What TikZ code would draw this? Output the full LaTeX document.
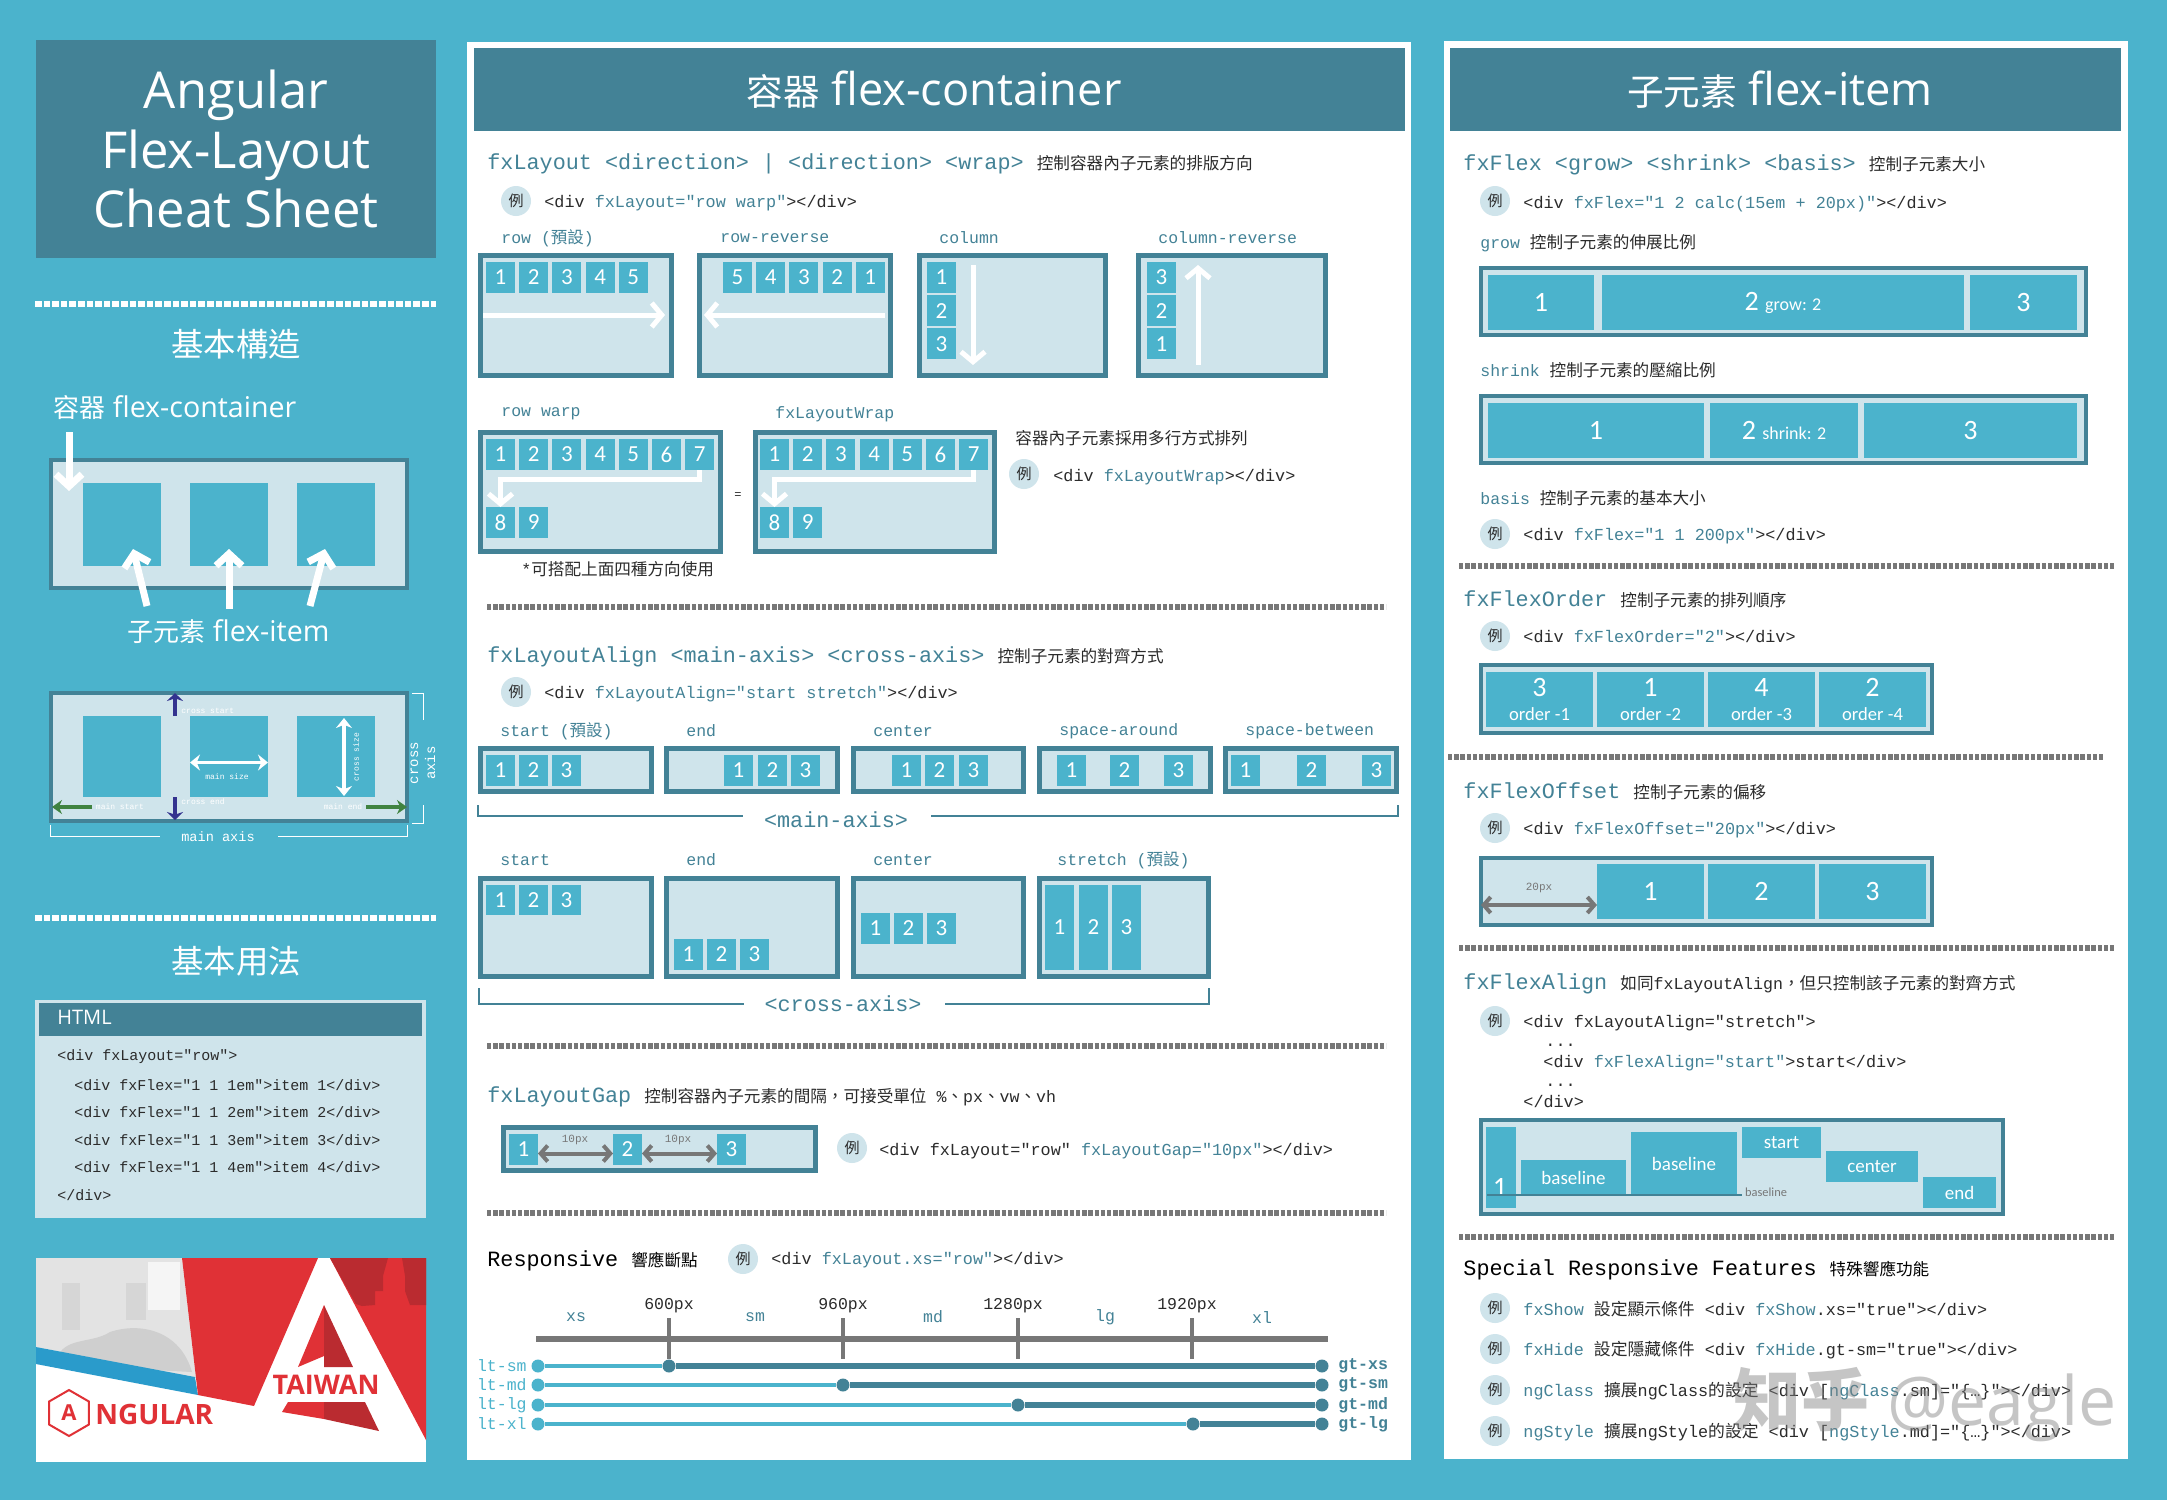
\documentclass[tikz,border=0pt]{standalone}
\usepackage{fontspec}
\setmainfont{Open Sans}
\setmonofont{Liberation Mono}
\newfontfamily\cjk{Noto Sans CJK TC}
\newfontfamily\itemfont{Carlito}
\usetikzlibrary{arrows.meta,positioning,calc,shapes.geometric}
\definecolor{pagebg}{HTML}{4BB3CC}
\definecolor{boxdark}{HTML}{438296}
\definecolor{boxlight}{HTML}{CFE4EB}
\definecolor{ruleg}{HTML}{777777}
\definecolor{codeink}{HTML}{2B2B2B}
\definecolor{logored}{HTML}{E03136}
\definecolor{logodark}{HTML}{BA2B30}
\definecolor{logoblue}{HTML}{2A9BCB}
\newcommand{\zh}[1]{{\cjk #1}}
\newcommand{\zhs}[1]{{\cjk\fontsize{8.3}{10}\selectfont #1}}
\newcommand{\tts}[1]{{\ttfamily\fontsize{8.3}{10}\selectfont #1}}
\newcommand{\ka}[1]{\textcolor{boxdark}{#1}}
% px coordinates: one unit is half a point
\newcommand{\itembox}[6]{\node[itembg,minimum width={(#4)*.5pt},minimum height={(#5)*.5pt}] (#1) at ({#2+(#4)/2},{#3+(#5)/2}) {#6};}
\newcommand{\flexbox}[6][5]{\node[flexbg,line width=#1*.5pt,minimum width={(#5-#3-#1)*.5pt},minimum height={(#6-#4-#1)*.5pt}] (#2) at ({(#3+#5)/2},{(#4+#6)/2}) {};}
\newcommand{\exmark}[3]{\node[exmark] (#1) at (#2,#3) {例};}
\newcommand{\threeitems}[7]{\itembox{#1a}{#2}{#5}{29}{#6}{1}\itembox{#1b}{#3}{#5}{29}{#6}{2}\itembox{#1c}{#4}{#5}{29}{#6}{3}}
\tikzset{
  itembg/.style={fill=pagebg,inner sep=0,outer sep=0,text=white,align=center,font=\itemfont\fontsize{11.5}{13}\selectfont},
  flexbg/.style={draw=boxdark,fill=boxlight,inner sep=0,outer sep=0},
  exmark/.style={circle,fill=boxlight,inner sep=0,minimum size=15pt,text=codeink,font=\cjk\fontsize{7.5}{9}\selectfont},
  sectitle/.style={anchor=west,inner sep=0,text=boxdark,font=\ttfamily\fontsize{10.9}{13}\selectfont},
  codeline/.style={anchor=west,inner sep=0,text=codeink,font=\ttfamily\fontsize{8.4}{11}\selectfont},
  optlabel/.style={anchor=west,inner sep=0,text=boxdark,font=\ttfamily\fontsize{8.25}{10}\selectfont},
  htmlcode/.style={anchor=west,inner sep=0,text=codeink,font=\ttfamily\fontsize{7.5}{9}\selectfont},
  headbar/.style={fill=boxdark,inner sep=0,text=white},
  headtext/.style={inner sep=0,text=white,font=\fontsize{22.6}{25}\selectfont},
  sidetext/.style={inner sep=0,text=white,font=\fontsize{14.3}{16}\selectfont},
  sidehead/.style={inner sep=0,text=white,font=\cjk\fontsize{16.2}{18}\selectfont},
  tinylab/.style={inner sep=0,text=white,font=\ttfamily\fontsize{4}{5}\selectfont},
  axislab/.style={inner sep=0,text=boxdark,font=\ttfamily\fontsize{10.9}{13}\selectfont},
  graylab/.style={inner sep=0,text=ruleg,font=\ttfamily\fontsize{5.5}{7}\selectfont},
  flowarrow/.style={draw=white,line width=2.5pt,arrows={-Straight Barb[length=5pt,width=12pt]}},
  bigarrow/.style={draw=white,line width=3.5pt,arrows={-Straight Barb[length=6pt,width=13pt]}},
  gaparrow/.style={draw=ruleg,line width=2pt,arrows={Straight Barb[length=3.5pt,width=8pt]-Straight Barb[length=3.5pt,width=8pt]}},
  thinarrow/.style={draw=white,line width=1.7pt,arrows={Stealth[length=5pt,width=8pt]-Stealth[length=5pt,width=8pt]}},
  bluearrow/.style={draw=blue!45!black!80,line width=2pt,arrows={-Stealth[length=4pt,width=8pt]}},
  greenarrow/.style={draw=green!35!black!75,line width=2.4pt,arrows={-Stealth[length=5pt,width=7pt]}},
  axisline/.style={draw=boxdark,line width=.6pt},
  sideline/.style={draw=white,line width=.5pt},
  dashrule/.style={draw=ruleg,line width=2.6pt,dash pattern=on 2.2pt off .9pt},
  whiterule/.style={draw=white,line width=2.6pt,dash pattern=on 3.3pt off 1pt},
  zoneline/.style={line width=1.9pt},
  stageline/.style={line width=2.6pt},
  zonedot/.style={circle,inner sep=0,minimum size=6.5pt},
}
\begin{document}
\begin{tikzpicture}[x=.5pt,y=-.5pt]
\useasboundingbox (0,0) rectangle (2167,1500);
\fill[pagebg] (0,0) rectangle (2167,1500);

% left column
\node[headbar,minimum width=200pt,minimum height=109pt,align=center,font=\fontsize{25.4}{29.6}\selectfont] (sheet) at (236,149) {Angular\\Flex-Layout\\Cheat Sheet};
\draw[whiterule] (35,304) -- (436,304);
\node[sidehead] (struct) at (236,344) {基本構造};
\node[sidetext,anchor=west] (lbcont) at (53,408) {\zh{\fontsize{13}{15}\selectfont 容器} flex-container};
\node[draw=boxdark,fill=boxlight,line width=1.75pt,inner sep=0,minimum width=178pt,minimum height=64pt] (strbox) at (229,524) {};
\foreach \n/\x in {a/83,b/190,c/297} {
  \itembox{str\n}{\x}{483}{78}{83}{}
}
\coordinate (contfrom) at (69,432);
\coordinate (contto) at (69,491);
\draw[bigarrow] (contfrom) -- (contto);
\node[sidetext,anchor=west] (lbitem) at (127,632) {\zh{\fontsize{13}{15}\selectfont 子元素} flex-item};
\coordinate (ia) at (147,606);
\coordinate (ib) at (229,609);
\coordinate (ic) at (310,606);
\draw[bigarrow] (ia) -- (133,549);
\draw[bigarrow] (ib) -- (229,549);
\draw[bigarrow] (ic) -- (325,549);

\node[draw=boxdark,fill=boxlight,line width=1.75pt,inner sep=0,minimum width=178pt,minimum height=64pt] (axbox) at (229,757) {};
\foreach \n/\x in {a/83,b/190,c/297} {
  \itembox{ax\n}{\x}{716}{78}{81}{}
}
\draw[bluearrow] (axb.north west) ++(-15,0) coordinate (cs) -- ++(0,-23);
\draw[bluearrow] (axb.south west) ++(-15,0) coordinate (ce) -- ++(0,23);
\node[tinylab,anchor=west] (crossstart) at (181,711) {cross start};
\node[tinylab,anchor=west] (crossend) at (181,802) {cross end};
\draw[thinarrow] (axb.west) ++(0,6) -- ++(78,0) coordinate (msize);
\node[tinylab] (mainsize) at (227,777) {main size};
\draw[thinarrow] (344,718) coordinate (csa) -- (344,796);
\node[tinylab,rotate=90] (crosssize) at (356,757) {cross size};
\coordinate (mstart) at (92,807);
\draw[greenarrow] (mstart) -- (52,807);
\node[tinylab] (mainstart) at (120,807) {main start};
\coordinate (mend) at (366,807);
\draw[greenarrow] (mend) -- (407,807);
\node[tinylab] (mainend) at (343,807) {main end};
\coordinate (cxa) at (412,693);
\coordinate (cxb) at (423,720);
\coordinate (cxc) at (423,805);
\coordinate (cxd) at (412,823);
\draw[sideline] (cxa) -| (cxb);
\draw[sideline] (cxc) |- (cxd);
\node[inner sep=0,rotate=90,align=center,text=white,font=\ttfamily\fontsize{7}{8.5}\selectfont] (crossaxis) at (423,763) {cross\\axis};
\node[inner sep=0,text=white,font=\ttfamily\fontsize{6.8}{8}\selectfont] (mainaxis) at (218,837) {main axis};
\coordinate (mxa) at (50,825);
\coordinate (mxb) at (407,825);
\draw[sideline] (mxa) |- (160,836);
\draw[sideline] (mxb) |- (278,836);

\draw[whiterule] (35,918) -- (436,918);
\node[sidehead] (usage) at (236,961) {基本用法};
\fill[boxlight] (35,1000) rectangle (426,1218);
\node[headbar,minimum width=191.5pt,minimum height=16.5pt] (htmlbar) at (230.5,1019.5) {};
\node[inner sep=0,anchor=west,text=white,font=\fontsize{10}{12}\selectfont] (htmllab) at (57,1017) {HTML};
\node[htmlcode] (hc0) at (57,1057) {<div fxLayout="row">};
\foreach \k/\y in {1/1085,2/1112,3/1140,4/1167} {
  \node[htmlcode] (hc\k) at (74,\y) {<div fxFlex="1 1 \k em">item \k</div>};
}
\node[htmlcode] (hc5) at (57,1195) {</div>};

% logo, drawn directly
\fill[white] (36,1258) rectangle (426,1462);
\fill[gray!22] (36,1258) -- (182,1258) -- (196,1378) -- (36,1347) -- cycle;
\fill[gray!8] (148,1262) rectangle (180,1310);
\fill[gray!32] (62,1283) rectangle (80,1330);
\fill[gray!32] (126,1283) rectangle (146,1320);
\fill[gray!38] (55,1365) .. controls (60,1335) and (90,1345) .. (110,1332) .. controls (140,1322) and (180,1330) .. (192,1372) -- cycle;
\fill[logoblue] (36,1347) -- (195,1377) -- (198,1395) -- (36,1364) -- cycle;
\fill[logored] (182,1258) -- (318,1258) -- (254,1406) -- (198,1395) -- cycle;
\fill[logored] (330,1258) -- (426,1258) -- (426,1440) -- cycle;
\fill[logodark] (330,1258) -- (388,1258) -- (383,1276) -- (383,1291) -- (375,1291) -- (375,1305) -- (362,1306) -- (356,1304) -- cycle;
\fill[logodark] (402,1258) -- (426,1258) -- (426,1305) -- (410,1305) -- (405,1291) -- (405,1276) -- cycle;
\fill[logored] (324,1305) -- (298,1367) -- (324,1356) -- cycle;
\fill[logodark] (324,1305) -- (353,1367) -- (324,1367) -- cycle;
\fill[logored] (288,1402) -- (324,1402) -- (324,1419) -- (282,1412) -- cycle;
\fill[logodark] (324,1402) -- (365,1402) -- (379,1431) -- (324,1419) -- cycle;
\node[inner sep=0,text=logored,font=\bfseries\fontsize{13.5}{15}\selectfont] (taiwan) at (326,1385) {TAIWAN};
\node[regular polygon,regular polygon sides=6,regular polygon rotate=30,draw=logored,line width=1pt,inner sep=0,minimum size=23pt,text=logored,font=\bfseries\fontsize{11}{12}\selectfont] (nghex) at (69,1413) {A};
\node[inner sep=0,anchor=west,text=logored,font=\bfseries\fontsize{14}{16}\selectfont] (ngular) at (95,1414) {NGULAR};

% center panel
\fill[white] (467,42) rectangle (1411,1460);
\node[headbar,minimum width=465.5pt,minimum height=41.5pt] (conthead) at (939.5,89.5) {};
\node[headtext] (conttitle) at (934,89.5) {\zh{\fontsize{18.3}{20}\selectfont 容器} flex-container};
\node[sectitle] (tlayout) at (487,164) {fxLayout <direction> | <direction> <wrap> \textcolor{codeink}{\zhs{控制容器內子元素的排版方向}}};
\exmark{ex1}{516}{201}
\node[codeline] (cd1) at (544,203) {<div \ka{fxLayout="row warp"}></div>};
\node[optlabel] (lrow) at (501,238) {row (\zh{預設})};
\node[optlabel] (lrowr) at (720,238) {row-reverse};
\node[optlabel] (lcol) at (939,238) {column};
\node[optlabel] (lcolr) at (1158,238) {column-reverse};
\flexbox{brow}{478}{253}{674}{378}
\flexbox{browr}{697}{253}{893}{378}
\flexbox{bcol}{917}{253}{1108}{378}
\flexbox{bcolr}{1136}{253}{1328}{378}
\foreach \n [count=\i from 0] in {1,...,5} {
  \itembox{ra\n}{486+33.2*\i}{262}{29}{31}{\n}
}
\foreach \n [count=\i from 0] in {5,4,3,2,1} {
  \itembox{rb\n}{723+33.2*\i}{262}{29}{31}{\n}
}
\foreach \n [count=\i from 0] in {1,2,3} {
  \itembox{ca\n}{927}{262+33.2*\i}{29}{31}{\n}
}
\foreach \n [count=\i from 0] in {3,2,1} {
  \itembox{cb\n}{1147}{262+33.2*\i}{29}{31}{\n}
}
\coordinate (ra0) at (483,315);
\coordinate (rb0) at (885,315);
\coordinate (ca0) at (973,265);
\coordinate (cb0) at (1198,365);
\draw[flowarrow] (ra0) -- (665,315);
\draw[flowarrow] (rb0) -- (704,315);
\draw[flowarrow] (ca0) -- (973,365);
\draw[flowarrow] (cb0) -- (1198,265);

\node[optlabel] (lwarp) at (501,414) {row warp};
\node[optlabel] (lwrap) at (775,414) {fxLayoutWrap};
\flexbox{bwarp}{478}{430}{723}{554}
\flexbox{bwrap}{753}{430}{997}{554}
\foreach \n [count=\i from 0] in {1,...,7} {
  \itembox{wa\n}{486+33.2*\i}{439}{29}{31}{\n}
  \itembox{wb\n}{760+33.2*\i}{439}{29}{31}{\n}
}
\foreach \n [count=\i from 0] in {8,9} {
  \itembox{wa\n}{486+33.2*\i}{507}{29}{31}{\n}
  \itembox{wb\n}{760+33.2*\i}{507}{29}{31}{\n}
}
\draw[flowarrow] (wa7.south) -- ++(0,9) -| (wa8.north);
\draw[flowarrow] (wb7.south) -- ++(0,9) -| (wb8.north);
\node[inner sep=0,text=codeink,font=\ttfamily\fontsize{6}{7}\selectfont] (eqsign) at (738,496) {=};
\node[inner sep=0,anchor=west,text=codeink,font=\cjk\fontsize{8.3}{10}\selectfont] (wraptxt) at (1015,438) {容器內子元素採用多行方式排列};
\exmark{ex2}{1024}{474}
\node[codeline] (cd2) at (1053,477) {<div \ka{fxLayoutWrap}></div>};
\node[inner sep=0,anchor=west,text=codeink,font=\cjk\fontsize{8.3}{10}\selectfont] (warpnote) at (521,569) {\texttt{*}可搭配上面四種方向使用};
\draw[dashrule] (487,607) -- (1386,607);

\node[sectitle] (talign) at (487,657) {fxLayoutAlign <main-axis> <cross-axis> \textcolor{codeink}{\zhs{控制子元素的對齊方式}}};
\exmark{ex3}{516}{692}
\node[codeline] (cd3) at (544,694) {<div \ka{fxLayoutAlign="start stretch"}></div>};
\foreach \n/\x/\t in {a/500/start (\zh{預設}),b/686/end,c/873/center,d/1059/space-around,e/1245/space-between} {
  \node[optlabel] (ml\n) at (\x,731) {\t};
}
\flexbox{mba}{478}{746}{654}{794}
\flexbox{mbb}{664}{746}{840}{794}
\flexbox{mbc}{851}{746}{1026}{794}
\flexbox{mbd}{1037}{746}{1213}{794}
\flexbox{mbe}{1223}{746}{1399}{794}
\threeitems{mia}{486}{519}{552}{755}{31}{}
\threeitems{mib}{724}{758}{791}{755}{31}{}
\threeitems{mic}{892}{925}{959}{755}{31}{}
\threeitems{mid}{1057}{1110}{1164}{755}{31}{}
\threeitems{mie}{1231}{1297}{1362}{755}{31}{}
\node[axislab] (mainlab) at (836,820) {<main-axis>};
\coordinate (mla) at (478,805);
\coordinate (mlb) at (1398,805);
\draw[axisline] (mla) |- (743,816);
\draw[axisline] (mlb) |- (931,816);

\foreach \n/\x/\t in {a/500/start,b/686/end,c/873/center,d/1057/stretch (\zh{預設})} {
  \node[optlabel] (cl\n) at (\x,860) {\t};
}
\flexbox{cba}{478}{876}{654}{979}
\flexbox{cbb}{664}{876}{840}{979}
\flexbox{cbc}{851}{876}{1026}{979}
\flexbox{cbd}{1037}{876}{1211}{979}
\threeitems{cia}{486}{519}{552}{885}{30}{}
\threeitems{cib}{674}{707}{740}{939}{31}{}
\threeitems{cic}{861}{894}{927}{913}{31}{}
\threeitems{cid}{1045}{1079}{1112}{885}{85}{}
\node[axislab] (crosslab) at (843,1004) {<cross-axis>};
\coordinate (cla) at (479,988);
\coordinate (clb) at (1209,988);
\draw[axisline] (cla) |- (744,1004);
\draw[axisline] (clb) |- (945,1004);
\draw[dashrule] (487,1046) -- (1386,1046);

\node[sectitle] (tgap) at (487,1097) {fxLayoutGap \textcolor{codeink}{\zhs{控制容器內子元素的間隔，可接受單位}\tts{ \%}\zhs{、}\tts{px}\zhs{、}\tts{vw}\zhs{、}\tts{vh}}};
\flexbox{gapb}{501}{1125}{818}{1173}
\itembox{ga}{509}{1134}{29}{31}{1}
\itembox{gb}{613}{1134}{29}{31}{2}
\itembox{gc}{717}{1134}{29}{31}{3}
\coordinate (gay) at ($(ga.east)+(0,4)$);
\coordinate (gby) at ($(gb.west)+(0,4)$);
\coordinate (gcy) at ($(gb.east)+(0,4)$);
\coordinate (gdy) at ($(gc.west)+(0,4)$);
\draw[gaparrow] (gay) -- (gby);
\draw[gaparrow] (gcy) -- (gdy);
\node[graylab] (gapa) at (575,1140) {10px};
\node[graylab] (gapb) at (678,1140) {10px};
\exmark{ex4}{852}{1148}
\node[codeline] (cd4) at (879,1151) {<div fxLayout="row" \ka{fxLayoutGap="10px"}></div>};
\draw[dashrule] (487,1213) -- (1386,1213);

\node[sectitle,text=black] (tresp) at (487,1261) {Responsive \zhs{響應斷點}};
\exmark{ex5}{743}{1259}
\node[codeline] (cd5) at (771,1260) {<div \ka{fxLayout.xs="row"}></div>};
\coordinate (axa) at (536,1339);
\coordinate (axb2) at (1328,1339);
\draw[draw=ruleg,line width=3pt] (axa) -- (axb2);
\foreach \x/\lx/\t in {669/669/600px,843/843/960px,1018/1013/1280px,1192/1187/1920px} {
  \draw[draw=ruleg,line width=2.4pt] (\x,1318) -- (\x,1359);
  \node[optlabel,anchor=center,text=codeink] (px\x) at (\lx,1306) {\t};
}
\foreach \x/\t in {576/xs,755/sm,933/md,1105/lg,1262/xl} {
  \node[optlabel,anchor=center] (zone\t) at (\x,1317) {\t};
}
\foreach \lo/\hi/\y/\sx in {lt-sm/gt-xs/1366/669,lt-md/gt-sm/1385/843,lt-lg/gt-md/1405/1018,lt-xl/gt-lg/1424/1193} {
  \node[zonedot,fill=pagebg] (d\lo) at (538,\y) {};
  \node[zonedot,fill=boxdark] (m\lo) at (\sx,\y) {};
  \node[zonedot,fill=boxdark] (e\lo) at (1322,\y) {};
  \draw[zoneline,draw=pagebg] (d\lo) -- (m\lo);
  \draw[stageline,draw=boxdark] (m\lo) -- (e\lo);
  \node[optlabel,anchor=east,text=pagebg] (t\lo) at (527,\y) {\lo};
  \node[optlabel,text=boxdark,font=\ttfamily\bfseries\fontsize{8.25}{10}\selectfont] (t\hi) at (1338,\y) {\hi};
}

% right panel
\fill[white] (1444,41) rectangle (2128,1459);
\node[headbar,minimum width=335.5pt,minimum height=41.5pt] (itemhead) at (1785.5,89.5) {};
\node[headtext] (itemtitle) at (1780,89.5) {\zh{\fontsize{18.3}{20}\selectfont 子元素} flex-item};
\node[sectitle] (tflex) at (1463,165) {fxFlex <grow> <shrink> <basis> \textcolor{codeink}{\zhs{控制子元素大小}}};
\exmark{ex6}{1495}{201}
\node[codeline] (cd6) at (1523,204) {<div \ka{fxFlex="1 2 calc(15em + 20px)"}></div>};
\node[optlabel] (lgrow) at (1480,243) {grow \textcolor{codeink}{\zhs{控制子元素的伸展比例}}};
\flexbox[4]{bgrow}{1479}{266}{2088}{337}
\tikzset{itembg/.append style={font=\itemfont\fontsize{14}{16}\selectfont}}
\itembox{ga1}{1488}{275}{106}{55}{1}
\itembox{ga2}{1602}{275}{362}{55}{2 {\fontsize{9}{11}\selectfont grow: 2}}
\itembox{ga3}{1970}{275}{107}{55}{3}
\node[optlabel] (lshrink) at (1480,370) {shrink \textcolor{codeink}{\zhs{控制子元素的壓縮比例}}};
\flexbox[4]{bshr}{1479}{394}{2088}{465}
\itembox{sa1}{1488}{403}{216}{55}{1}
\itembox{sa2}{1710}{403}{148}{55}{2 {\fontsize{9}{11}\selectfont shrink: 2}}
\itembox{sa3}{1864}{403}{213}{55}{3}
\node[optlabel] (lbasis) at (1480,498) {basis \textcolor{codeink}{\zhs{控制子元素的基本大小}}};
\exmark{ex7}{1495}{534}
\node[codeline] (cd7) at (1523,536) {<div \ka{fxFlex="1 1 200px"}></div>};
\draw[dashrule] (1459,566) -- (2114,566);

\node[sectitle] (torder) at (1463,599) {fxFlexOrder \textcolor{codeink}{\zhs{控制子元素的排列順序}}};
\exmark{ex8}{1495}{636}
\node[codeline] (cd8) at (1523,637) {<div \ka{fxFlexOrder="2"}></div>};
\flexbox[4]{bord}{1479}{663}{1934}{735}
\foreach \n/\o/\x in {3/1/1486,1/2/1597,4/3/1708,2/4/1819} {
  \itembox{od\n}{\x}{672}{107}{55}{\n\\[-4pt]\fontsize{9.3}{11}\selectfont order -\o}
}
\draw[dashrule] (1448,757) -- (2104,757);

\node[sectitle] (toff) at (1463,791) {fxFlexOffset \textcolor{codeink}{\zhs{控制子元素的偏移}}};
\exmark{ex9}{1495}{828}
\node[codeline] (cd9) at (1523,830) {<div \ka{fxFlexOffset="20px"}></div>};
\flexbox[4]{boff}{1479}{856}{1934}{927}
\foreach \n/\x in {1/1597,2/1708,3/1819} {
  \itembox{of\n}{\x}{864}{107}{55}{\n}
}
\coordinate (offl) at (1481,905);
\coordinate (offr) at (1597,905);
\draw[gaparrow] (offl) -- (offr);
\node[graylab] (offlab) at (1539,888) {20px};
\draw[dashrule] (1459,948) -- (2114,948);

\node[sectitle] (tfalign) at (1463,984) {fxFlexAlign \textcolor{codeink}{\zhs{如同}\tts{fxLayoutAlign}\zhs{，但只控制該子元素的對齊方式}}};
\exmark{ex10}{1495}{1021}
\node[codeline] (cd10a) at (1523,1023) {<div fxLayoutAlign="stretch">};
\node[codeline] (cd10b) at (1545,1045) {...};
\node[codeline] (cd10c) at (1543,1063) {<div \ka{fxFlexAlign="start"}>start</div>};
\node[codeline] (cd10d) at (1545,1085) {...};
\node[codeline] (cd10e) at (1523,1102) {</div>};
\flexbox[4]{bfa}{1479}{1118}{2005}{1216}
\tikzset{itembg/.append style={font=\itemfont\fontsize{9.5}{11}\selectfont}}
\itembox{fa1}{1486}{1127}{30}{81}{}
\node[inner sep=0,text=white,font=\itemfont\fontsize{14}{16}\selectfont] (fa1lab) at (1500,1187) {1};
\itembox{fa2}{1521}{1160}{105}{35}{baseline}
\itembox{fa3}{1631}{1132}{106}{63}{baseline}
\itembox{fa4}{1742}{1127}{79}{31}{start}
\itembox{fa5}{1826}{1151}{92}{31}{center}
\itembox{fa6}{1923}{1177}{73}{31}{end}
\coordinate (basea) at (1487,1195);
\coordinate (baseb) at (1742,1195);
\draw[draw=boxdark,line width=.6pt] (basea) -- (baseb);
\node[inner sep=0,text=ruleg,font=\itemfont\fontsize{6.2}{7}\selectfont] (baselab) at (1766,1192) {baseline};
\draw[dashrule] (1459,1237) -- (2114,1237);

\node[sectitle,text=black] (tspecial) at (1463,1270) {Special Responsive Features \zhs{特殊響應功能}};
\exmark{ex11}{1495}{1308}
\node[codeline] (sp1) at (1523,1309) {\ka{fxShow} \zh{設定顯示條件} <div \ka{fxShow}.xs="true"></div>};
\exmark{ex12}{1495}{1349}
\node[codeline] (sp2) at (1523,1350) {\ka{fxHide} \zh{設定隱藏條件} <div \ka{fxHide}.gt-sm="true"></div>};
\exmark{ex13}{1495}{1390}
\node[codeline] (sp3) at (1523,1391) {\ka{ngClass} \zh{擴展}ngClass\zh{的設定} <div [\ka{ngClass}.sm]="\{…\}"></div>};
\exmark{ex14}{1495}{1431}
\node[codeline] (sp4) at (1523,1432) {\ka{ngStyle} \zh{擴展}ngStyle\zh{的設定} <div [\ka{ngStyle}.md]="\{…\}"></div>};
\node[inner sep=0,text=gray,opacity=.45,font=\fontsize{34}{40}\selectfont] (mark) at (1925,1405) {\zh{\bfseries 知乎} @eagle};
\end{tikzpicture}
\end{document}
